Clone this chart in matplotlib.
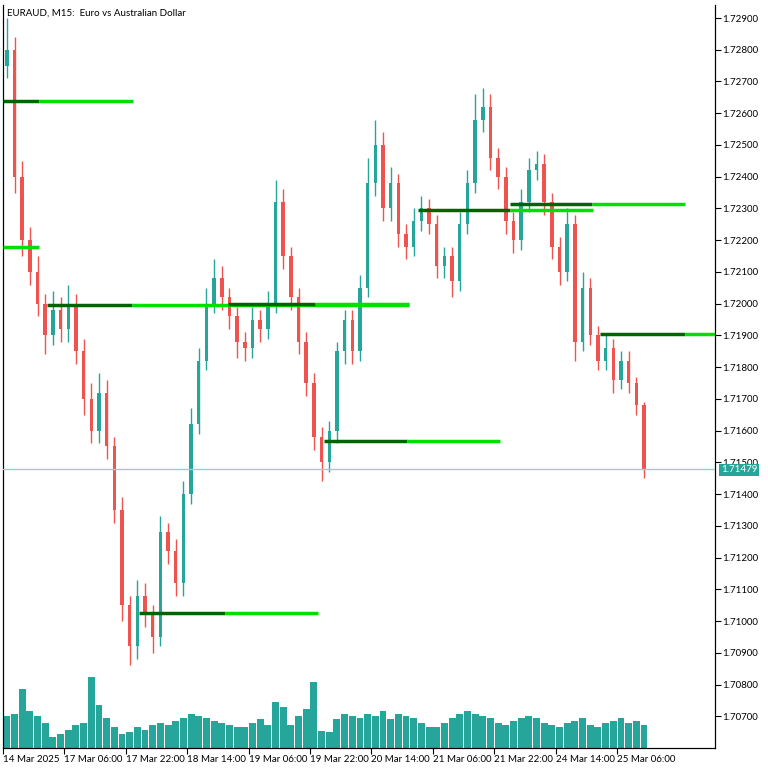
import matplotlib
matplotlib.use("Agg")
import matplotlib.pyplot as plt
from matplotlib.patches import Rectangle

plt.rcParams['font.family'] = ['Lato', 'DejaVu Sans']

closes = [1.7280,1.7240,1.7220,1.7210,1.7200,1.7190,1.7198,1.7192,1.7200,1.7185,
          1.7170,1.7160,1.7172,1.7155,1.7135,1.7105,1.7092,1.7108,1.7102,1.7095,
          1.7128,1.7122,1.7112,1.7140,1.7162,1.7182,1.7200,1.7208,1.7202,1.7196,
          1.7188,1.7186,1.7195,1.7192,1.7200,1.7232,1.7215,1.7202,1.7188,1.7175,
          1.7158,1.7150,1.7160,1.7185,1.7195,1.7185,1.7205,1.7238,1.7250,1.7230,
          1.7238,1.7222,1.7218,1.7226,1.7230,1.7225,1.7212,1.7215,1.7207,1.7225,
          1.7238,1.7258,1.7262,1.7246,1.7240,1.7226,1.7220,1.7232,1.7242,1.7244,
          1.7232,1.7218,1.7210,1.7225,1.7188,1.7205,1.7190,1.7182,1.7186,1.7176,
          1.7182,1.7175,1.7168,1.7148]
first_open = 1.7275
wick_up = [10,4,5,4,5,3,6,4,6,3,4,5,6,4,3,4,3,5,4,3,
           5,3,4,4,5,4,5,6,4,3,3,3,4,3,4,7,4,3,3,3,
           3,3,3,3,3,3,4,8,8,4,5,3,3,4,4,3,3,3,3,4,
           4,8,6,4,3,3,3,4,4,4,3,3,3,5,3,5,3,3,4,3,
           3,3,2,1]
wick_dn = [4,5,5,4,4,6,3,4,4,4,5,4,4,4,4,5,6,4,4,5,
           3,4,4,4,3,3,3,3,4,4,5,4,3,4,3,3,4,4,4,4,
           4,6,3,4,4,4,3,3,4,4,4,4,4,3,3,3,4,4,5,3,
           3,3,4,4,4,4,4,3,3,3,4,4,4,3,6,3,3,3,3,4,
           3,3,3,3]
volumes = [28,30,52,32,28,22,10,12,16,20,22,62,38,26,18,12,14,18,16,20,
           22,20,24,26,30,28,26,24,22,20,18,18,22,25,20,40,36,20,28,34,
           58,15,14,25,30,28,26,30,28,32,25,30,28,26,22,18,18,22,26,30,
           32,30,28,26,22,20,24,26,28,26,22,20,18,22,24,26,20,18,22,24,
           26,22,24,20]
levels = [  # price, dark start, dark end, bright end (bar index)
    (1.72637, 0, 38, 135),
    (1.72180, None, 0, 38),
    (1.71995, 46, 134, 423),
    (1.72000, 235, 325, 423),
    (1.71567, 335, 421, 518),
    (1.71025, 142, 231, 328),
    (1.72295, 432, 528, 615),
    (1.72314, 528, 614, 711),
    (1.71903, 622, 711, 745),
]
tick_labels = ["14 Mar 2025","17 Mar 06:00","17 Mar 22:00","18 Mar 14:00","19 Mar 06:00",
               "19 Mar 22:00","20 Mar 14:00","21 Mar 06:00","21 Mar 22:00","24 Mar 14:00","25 Mar 06:00"]
current_price = 1.71479

BPC = 8  # bars per candle
UP, DN = "#26a69a", "#ef5350"

fig = plt.figure(figsize=(7.68, 7.68), dpi=100)
ax = fig.add_axes([3/768, 20/768, 712/768, 743/768])
vax = ax.twinx()
vax.set_zorder(0); ax.set_zorder(1); ax.patch.set_visible(False)

opens = [first_open] + closes[:-1]
for i, (o, c) in enumerate(zip(opens, closes)):
    x = i * BPC + BPC / 2
    col = UP if c >= o else DN
    hi = max(o, c) + wick_up[i] * 1e-4
    lo = min(o, c) - wick_dn[i] * 1e-4
    ax.vlines(x, lo, hi, color=col, lw=1)
    ax.add_patch(Rectangle((x - 1.8, min(o, c)), 3.6, max(abs(c - o), 2e-5), color=col, lw=0))

vax.bar([i * BPC + BPC / 2 for i in range(len(volumes))], volumes, width=BPC * 0.9, color=UP, lw=0)
vax.set_ylim(0, max(volumes) * 10.5)
vax.set_yticks([])

for p, ds, de, be in levels:
    if ds is not None:
        ax.hlines(p, ds, de, color="#006400", lw=2.5, zorder=5)
    ax.hlines(p, de, be, color="#00e000", lw=2.5, zorder=5)

ax.axhline(current_price, color="#8fd3cc", lw=1, zorder=4)

ax.set_xlim(0, 742)
ax.set_ylim(1.70600, 1.72941)
ax.yaxis.tick_right()
ax.set_yticks([1.707 + 0.001 * k for k in range(23)])
ax.set_yticklabels([f"{1.707 + 0.001 * k:.5f}" for k in range(23)], fontsize=7)
ax.set_xticks([64 * k for k in range(len(tick_labels))])
ax.set_xticklabels(tick_labels, fontsize=7, ha="left")
ax.tick_params(length=4, direction="out", pad=1)
for s in ["top"]:
    ax.spines[s].set_visible(False)
    vax.spines[s].set_visible(False)
ax.text(0.005, 0.995, "EURAUD, M15:  Euro vs Australian Dollar", transform=ax.transAxes,
        fontsize=7, va="top", ha="left")
ax.text(1.008, current_price - 0.00003, f"{current_price:.5f}", transform=ax.get_yaxis_transform(),
        fontsize=7, color="white", va="center", ha="left",
        bbox=dict(boxstyle="square,pad=0.15", fc=UP, ec="none"), zorder=10)
fig.savefig("out.png", dpi=100)
